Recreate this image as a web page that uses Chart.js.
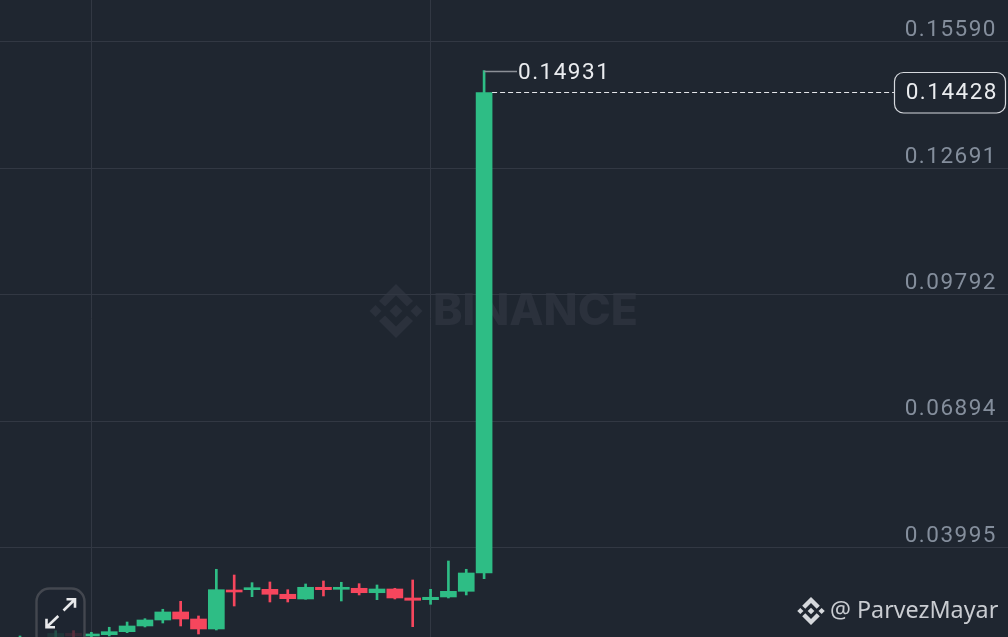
<!DOCTYPE html>
<html>
<head>
<meta charset="utf-8">
<style>html,body{margin:0;padding:0;background:#1f2630;overflow:hidden}canvas{display:block}</style>
<script src="https://cdn.jsdelivr.net/npm/chart.js@4"></script>
</head>
<body>
<canvas id="c" width="1008" height="637"></canvas>
<script>
const candleIndex = [0,1,2,3,4,5,6,7,8,9,10,11,12,13,14,15,16,17,18,19,20,21,22,23,24,25,26];
const opens  = [.0190,.0190,.01942,.02027,.01965,.01995,.02064,.02195,.02332,.02516,.02355,.02126,.03020,.03027,.03036,.02922,.02814,.03082,.03036,.03059,.02958,.03043,.02837,.02798,.02860,.02990,.03410];
const closes = [.0192,.0192,.02023,.01965,.02011,.02064,.02195,.02332,.02516,.02355,.02126,.03027,.02974,.03073,.02922,.02821,.03082,.03027,.03082,.02958,.03043,.02837,.02784,.02853,.02990,.03410,.14428];
const highs  = [.01965,.0193,.02087,.02087,.02050,.02165,.02286,.02362,.02578,.02761,.02424,.03495,.03364,.03188,.03204,.03027,.03158,.03227,.03197,.03165,.03135,.03059,.03250,.03036,.03685,.03495,.14931];
const lows   = [.0188,.0188,.0190,.0190,.01942,.01965,.02041,.02172,.02263,.02195,.02011,.02103,.02653,.02867,.02745,.02745,.02807,.02883,.02768,.02906,.02798,.02814,.02179,.02692,.02837,.02906,.03279];
const yTickValues = [0.15590,0.12691,0.09792,0.06894,0.03995];
const xGridIndex = [4,23];
const lastPrice = 0.14428;
const peakPrice = 0.14931;
const peakIndex = 26;

const GREEN='#2ebd85', RED='#f6465d', BG='#1f2630', GRID='#323843';
const FONT='Roboto, sans-serif';
const up=opens.map((o,i)=>closes[i]>=o);
const colors=up.map(u=>u?GREEN:RED);

function diamond(ctx,cx,cy,r){ctx.beginPath();ctx.moveTo(cx,cy-r);ctx.lineTo(cx+r,cy);ctx.lineTo(cx,cy+r);ctx.lineTo(cx-r,cy);ctx.closePath();ctx.fill();}
function binanceLogo(ctx,cx,cy,R,color){
  ctx.save();ctx.fillStyle=color;
  const s=R/27;
  diamond(ctx,cx,cy,6.5*s);
  diamond(ctx,cx-20.5*s,cy,6*s);
  diamond(ctx,cx+20.5*s,cy,6*s);
  const chev=(dir)=>{ctx.beginPath();
    ctx.moveTo(cx,cy+dir*27*s);
    ctx.lineTo(cx+17*s,cy+dir*10*s);
    ctx.lineTo(cx+11*s,cy+dir*4.5*s);
    ctx.lineTo(cx,cy+dir*15.5*s);
    ctx.lineTo(cx-11*s,cy+dir*4.5*s);
    ctx.lineTo(cx-17*s,cy+dir*10*s);
    ctx.closePath();ctx.fill();};
  chev(-1);chev(1);
  ctx.restore();
}
const backdrop={id:'backdrop',beforeDraw(ch){
  const c=ch.ctx;c.save();
  c.fillStyle=BG;c.fillRect(0,0,ch.width,ch.height);
  binanceLogo(c,396,311,27,'#2b313c');
  c.fillStyle='#2b313c';c.font='800 44.5px Inter, sans-serif';c.textAlign='left';c.textBaseline='middle';
  c.fillText('BINANCE',433,312);
  c.restore();
  c.letterSpacing='1.5px';
}};
const overlay={id:'overlay',afterDraw(ch){
  const c=ch.ctx,y=ch.scales.y,x=ch.scales.x;
  c.save();
  const yLast=Math.floor(y.getPixelForValue(lastPrice))+0.5;
  const xPeak=x.getPixelForValue(peakIndex),yPeak=Math.round(y.getPixelForValue(peakPrice))+0.5;
  // last price dashed line
  c.strokeStyle='#e4e6ea';c.lineWidth=1;c.setLineDash([5,3]);
  c.beginPath();c.moveTo(xPeak+8,yLast);c.lineTo(894,yLast);c.stroke();c.setLineDash([]);
  // last price tag
  c.fillStyle=BG;c.strokeStyle='#d5d8dd';c.lineWidth=1.2;
  c.beginPath();c.roundRect(894.5,72.5,111,40.5,9);c.fill();c.stroke();
  c.fillStyle='#eaecef';c.font='22.5px '+FONT;c.textAlign='right';c.textBaseline='middle';
  c.fillText(lastPrice.toFixed(5),998,93.5);
  // peak connector + label
  c.strokeStyle='#8b8f96';c.lineWidth=1.4;
  c.beginPath();c.moveTo(xPeak,yPeak);c.lineTo(517,yPeak);c.stroke();
  c.fillStyle='#eaecef';c.textAlign='left';
  c.fillText(peakPrice.toFixed(5),518,73);
  // expand button
  c.letterSpacing='0px';
  c.fillStyle='rgba(31,38,48,0.72)';c.strokeStyle='#43474f';c.lineWidth=2.4;
  c.beginPath();c.roundRect(36.5,588.5,48,60,13);c.fill();c.stroke();
  c.strokeStyle='#e8e9eb';c.lineWidth=2.6;c.lineCap='butt';c.lineJoin='miter';
  c.beginPath();
  c.moveTo(63.5,610.5);c.lineTo(75,599.3);
  c.moveTo(66.5,599.3);c.lineTo(75,599.3);c.lineTo(75,607.8);
  c.moveTo(58.3,616);c.lineTo(46.5,627.3);
  c.moveTo(46.5,618.7);c.lineTo(46.5,627.3);c.lineTo(55,627.3);
  c.stroke();
  // author stamp
  binanceLogo(c,811,611,14,'#d5d8dc');
  c.fillStyle='#c9ccd1';c.font='23.3px "Noto Sans", sans-serif';c.textAlign='left';c.textBaseline='middle';
  c.fillText('@ ParvezMayar',830,611);
  c.restore();
}};

new Chart(document.getElementById('c').getContext('2d'),{
  type:'bar',
  data:{datasets:[
    {label:'Body',order:1,grouped:false,barThickness:16,
     data:candleIndex.map(i=>({x:i,y:[Math.min(opens[i],closes[i]),Math.max(opens[i],closes[i])]})),
     backgroundColor:colors.map((col,i)=>i<4?col+'66':col),borderWidth:0},
    {label:'Wick',order:2,grouped:false,barThickness:2,
     data:candleIndex.map(i=>({x:i,y:[lows[i],highs[i]]})),
     backgroundColor:colors,borderWidth:0}
  ]},
  options:{
    responsive:false,animation:false,events:[],devicePixelRatio:1,
    layout:{padding:0},
    plugins:{legend:{display:false},tooltip:{enabled:false}},
    scales:{
      x:{type:'linear',offset:false,min:-1.1204,max:55.35,
         afterBuildTicks(s){s.ticks=xGridIndex.map(v=>({value:v}));},
         afterFit(s){s.height=0;s.paddingLeft=0;s.paddingRight=0;s.paddingTop=0;s.paddingBottom=0;},
         border:{display:false},
         grid:{color:GRID,lineWidth:1,drawTicks:false,offset:false},
         ticks:{display:false}},
      y:{type:'linear',position:'right',min:0.01942,max:0.16552,
         afterBuildTicks(s){s.ticks=yTickValues.map(v=>({value:v}));},
         afterFit(s){s.width=0;s.paddingTop=0;s.paddingBottom=0;s.paddingLeft=0;s.paddingRight=0;},
         border:{display:false},
         grid:{color:GRID,lineWidth:1,drawTicks:false},
         ticks:{mirror:true,padding:-11,color:'#848e9c',autoSkip:false,
                font:{family:FONT,size:22.5,lineHeight:1},
                callback:v=>[v.toFixed(5),'']}}
    }
  },
  plugins:[backdrop,overlay]
});
</script>
</body>
</html>
